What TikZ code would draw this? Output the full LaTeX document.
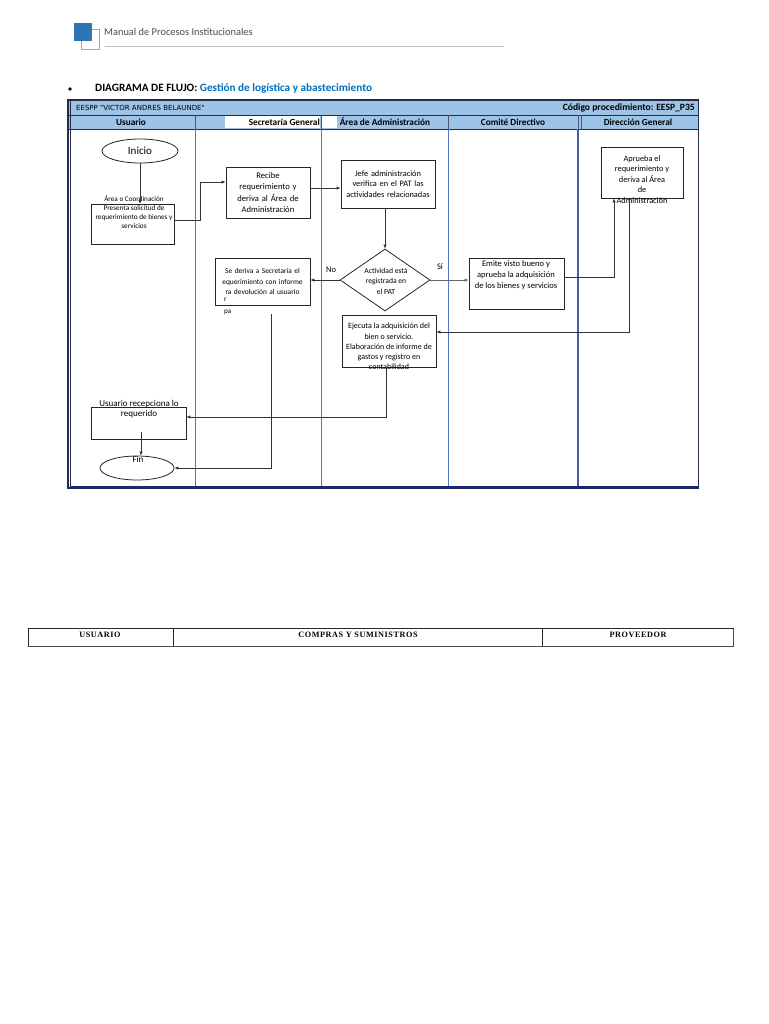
\documentclass[tikz,border=0pt]{standalone}
\usepackage{fontspec}
\setmainfont{Carlito}
\newfontfamily\serifb[LetterSpace=7]{Liberation Serif}
\newfontfamily\dvs{DejaVu Sans}
\usetikzlibrary{shapes.geometric,arrows.meta}
\definecolor{hdrblue}{RGB}{157,195,230}
\definecolor{lanecol}{RGB}{80,120,200}
\definecolor{titblue}{RGB}{0,112,192}
\definecolor{framecol}{RGB}{35,45,75}
\definecolor{logoblue}{RGB}{46,117,182}
\begin{document}
\begin{tikzpicture}[x=1pt,y=-1pt,
  box/.style={draw=black!85,line width=0.8pt,fill=white,inner sep=1pt,align=center},
  txt/.style={inner sep=0pt,align=center},
  arr/.style={-{Latex[length=4pt,width=3.5pt]},line width=0.8pt,draw=black!80},
  fa/.style={font=\fontsize{7.2}{8.7}\selectfont},
  fb/.style={font=\fontsize{8.3}{10.5}\selectfont},
  fc/.style={font=\fontsize{8.6}{11.2}\selectfont},
  hd/.style={font=\bfseries\fontsize{9.3}{10}\selectfont,inner sep=0pt},
  lane/.style={draw=lanecol,line width=1pt}]
\useasboundingbox[fill=white] (0,0) rectangle (768,1024);

% page header
\draw[gray!70,line width=0.8pt] (81,29) rectangle (99,49);
\fill[logoblue] (74,23) rectangle (92,41);
\node[anchor=west,inner sep=0pt,text=black!70,font=\fontsize{10.4}{12}\selectfont] (mantit) at (104,32) {Manual de Procesos Institucionales};
\draw[gray!50,line width=1pt] (105,46.5) -- (504,46.5);

% title
\fill (70,89) circle (1.8);
\node[anchor=west,inner sep=0pt,font=\bfseries\fontsize{11.2}{12}\selectfont] (diag) at (95,88.5) {DIAGRAMA DE FLUJO: \textcolor{titblue}{Gestión de logística y abastecimiento}};

% table header rows
\fill[hdrblue] (69,100) rectangle (698,129);
\fill[white] (225,116) rectangle (320,128);
\fill[white] (322,116) rectangle (337,128);
\draw[framecol,line width=0.8pt] (69,115) -- (698,115);
\draw[framecol,line width=0.8pt] (69,129) -- (698,129);
\foreach \xx in {195,321,448,578} \draw[framecol!80,line width=0.6pt] (\xx,115) -- (\xx,129);
\draw[framecol!80,line width=0.6pt] (581,115) -- (581,129);
\node[anchor=west,inner sep=0pt,font=\dvs\fontsize{7}{9}\selectfont] (school) at (76,107.5) {EESPP "VICTOR ANDRES BELAUNDE"};
\node[anchor=east,inner sep=0pt,font=\bfseries\fontsize{9.6}{10}\selectfont] (codigo) at (695,107.5) {Código procedimiento: EESP\_P35};
\node[hd] (h1) at (131,122) {Usuario};
\node[hd,anchor=east] (h2) at (320,122) {Secretaría General};
\node[hd] (h3) at (385,122) {Área de Administración};
\node[hd] (h4) at (513,122) {Comité Directivo};
\node[hd] (h5) at (638,122) {Dirección General};

% lanes
\foreach \xx in {195,321,448} \draw[lane] (\xx,129) -- (\xx,487);
\draw[lanecol!80!black,line width=1.3pt] (578,129) -- (578,487);
% outer frame
\draw[framecol,line width=1.2pt] (68,100) rectangle (698.5,488);
\draw[framecol,line width=0.6pt] (70.5,100) -- (70.5,487);
\draw[framecol!70!blue,line width=1.3pt] (70,486.5) -- (698,486.5);

% nodes
\node[draw=black!85,line width=0.8pt,ellipse,minimum width=76,minimum height=24,inner sep=0pt,font=\fontsize{11}{12}\selectfont] (ini) at (140,151) {Inicio};
\node[box,minimum width=83,minimum height=40] (b1) at (132.5,224) {};
\node[txt,fa] (t1) at (134,212) {Área o Coordinación\\Presenta solicitud de\\requerimiento de bienes y\\servicios};
\node[box,fc,minimum width=84,minimum height=51,text width=80] (b2) at (268,192.5) {Recibe\\requerimiento y\\deriva al Área de\\Administración};
\node[box,fb,minimum width=94,minimum height=48,text width=92] (b3) at (388,184) {Jefe administración\\verifica en el PAT las\\actividades relacionadas};
\node[draw=black!85,line width=0.8pt,diamond,minimum width=90,minimum height=62,inner sep=0pt,aspect=1.45] (d) at (385,280) {};
\node[txt,font=\fontsize{7.6}{10.5}\selectfont] (td) at (386,281) {Actividad está\\registrada en\\el PAT};
\node[box,fa,font=\fontsize{7.4}{10.3}\selectfont,minimum width=95,minimum height=47,text width=93] (b4) at (262.5,281.5) {Se deriva a Secretaría el\\equerimiento con informe\\ra devolución al usuario};
\node[txt,fa,anchor=west] (tr) at (224,300) {r};
\node[txt,fa,anchor=west] (tpa) at (224,312.5) {pa};
\node[box,minimum width=95,minimum height=51] (b5) at (516.5,283.5) {};
\node[txt,font=\fontsize{8.5}{11}\selectfont] (t5) at (516,275) {Emite visto bueno y\\aprueba la adquisición\\de los bienes y servicios};
\node[box,minimum width=82,minimum height=51] (b6) at (642,172.5) {};
\node[txt,fb] (t6) at (642,179.5) {Aprueba el\\requerimiento y\\deriva al Área\\de\\Administración};
\node[box,minimum width=94,minimum height=52] (b7) at (389,341) {};
\node[txt,font=\fontsize{8}{10.2}\selectfont] (t7) at (389,346.5) {Ejecuta la adquisición del\\bien o servicio.\\Elaboración de informe de\\gastos y registro en\\contabilidad};
\node[box,minimum width=95,minimum height=32] (b8) at (138.5,423) {};
\node[txt,font=\fontsize{9}{10.5}\selectfont] (t8) at (139,409) {Usuario recepciona lo\\requerido};
\node[draw=black!85,line width=0.8pt,ellipse,minimum width=74,minimum height=24,inner sep=0pt] (fin) at (137,468) {};
\node[txt,font=\fontsize{9}{10}\selectfont] (tfin) at (138,459.5) {Fin};
\node[txt,font=\fontsize{8.5}{9}\selectfont] (lno) at (331,270) {No};
\node[txt,font=\fontsize{8.5}{9}\selectfont] (lsi) at (440,267) {Sí};

\coordinate (c1) at (141,432);
\coordinate (c2) at (271,314);

% connectors
\draw[arr] (ini.south -| 140,0) -- (140,204);
\draw[arr] ([yshift=4pt]b1.east) -- ++(26,0) |- ([yshift=10.5pt]b2.west);
\draw[arr] ([yshift=4.5pt]b2.east) -- ([yshift=-4pt]b3.west);
\draw[arr] (d.north |- b3.south) -- (d.north);
\draw[arr] (d.west) -- (d.west -| b4.east);
\draw[arr,draw=black!60] (d.east) -- (d.east -| b5.west);
\draw[arr] ([yshift=6.5pt]b5.east) -| ([xshift=-28pt]b6.south);
\draw[arr] ([xshift=-13pt]b6.south) |- ([yshift=9pt]b7.east);
\draw[arr] ([xshift=-3pt]b7.south) |- ([yshift=6pt]b8.east);
\draw[arr] (c1) -- (c1 |- fin.north);
\draw[arr] (c2) |- (fin.east);

% bottom table
\draw[black!85,line width=0.8pt] (28,628) rectangle (733,646);
\draw[black!70,line width=1.2pt] (29,646.8) -- (733.8,646.8) -- (733.8,629);
\draw[black!85,line width=0.8pt] (173,628) -- (173,646) (542,628) -- (542,646);
\node[inner sep=0pt,font=\serifb\bfseries\fontsize{8.2}{9}\selectfont] (u1) at (100,635) {USUARIO};
\node[inner sep=0pt,font=\serifb\bfseries\fontsize{8.2}{9}\selectfont] (u2) at (358,635) {COMPRAS Y SUMINISTROS};
\node[inner sep=0pt,font=\serifb\bfseries\fontsize{8.2}{9}\selectfont] (u3) at (638,635) {PROVEEDOR};
\end{tikzpicture}
\end{document}
